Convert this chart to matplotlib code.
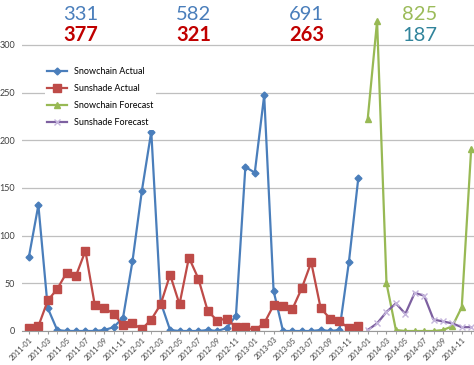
import numpy as np
import pandas as pd
import matplotlib
matplotlib.use('Agg')
import matplotlib.pyplot as plt

plt.rcParams['font.family'] = ['Lato', 'DejaVu Sans']

# monthly categories 2011-01 .. 2014-12
months = [str(p) for p in pd.period_range('2011-01', '2014-12', freq='M')]
tick_labels = months[::2]

nan = np.nan
snow_actual = [78, 132, 24, 1, 0, 0, 0, 0, 1, 4, 14, 73,
               147, 209, 30, 1, 0, 0, 0, 1, 0, 3, 16, 172,
               166, 247, 42, 0, 0, 0, 0, 1, 0, 1, 72, 160] + [nan] * 12
sun_actual = [3, 5, 32, 44, 61, 58, 84, 27, 24, 18, 6, 8,
              2, 12, 28, 59, 28, 77, 55, 21, 11, 13, 4, 4,
              1, 8, 27, 26, 23, 45, 72, 24, 13, 10, 3, 5] + [nan] * 12
snow_forecast = [nan] * 36 + [222, 325, 50, 1, 0, 0, 0, 0, 1, 5, 25, 191]
sun_forecast = [nan] * 36 + [1, 8, 20, 29, 18, 40, 37, 12, 10, 8, 4, 4]

# yearly totals shown above the plot
total_pos = [5.5, 17.5, 29.5, 41.5]
totals_top = ['331', '582', '691', '825']
totals_top_colors = ['#4a7ebb', '#4a7ebb', '#4a7ebb', '#9bbb59']
totals_bottom = ['377', '321', '263', '187']
totals_bottom_colors = ['#c00000', '#c00000', '#c00000', '#31849b']
totals_bottom_weight = ['bold', 'bold', 'bold', 'normal']

x = np.arange(len(months))

fig = plt.figure(figsize=(4.74, 3.65), dpi=100)
ax = fig.add_axes([22 / 474, 34 / 365, 452 / 474, 331 / 365])

ax.plot(x, snow_actual, color='#4a7ebb', lw=1.6, marker='D', ms=3.5,
        label='Snowchain Actual')
ax.plot(x, sun_actual, color='#be4b48', lw=1.6, marker='s', ms=5.5,
        label='Sunshade Actual')
ax.plot(x, snow_forecast, color='#98b954', lw=1.6, marker='^', ms=5,
        label='Snowchain Forecast')
ax.plot(x, sun_forecast, color='#7d60a0', lw=1.6, marker='x', ms=5,
        mec='#c4b5dc', mew=1, label='Sunshade Forecast')

for xp, t, c in zip(total_pos, totals_top, totals_top_colors):
    ax.text(xp, 332, t, color=c, fontsize=14.5, ha='center', va='center')
for xp, t, c, w in zip(total_pos, totals_bottom, totals_bottom_colors, totals_bottom_weight):
    ax.text(xp, 310, t, color=c, fontsize=14.5, ha='center', va='center', fontweight=w)

ax.set_xlim(-0.74, 47.3)
ax.set_ylim(0, 347)
ax.set_yticks([0, 50, 100, 150, 200, 250, 300])
ax.grid(axis='y', color='#bfbfbf', lw=0.9)
ax.set_axisbelow(True)

ax.set_xticks(x[::2])
ax.set_xticklabels(tick_labels, rotation=45, ha='right', rotation_mode='anchor',
                   fontsize=5.4, color='#404040')
ax.set_xticks(x, minor=True)
ax.tick_params(axis='x', which='both', length=2, color='#999999', pad=1.5)
ax.tick_params(axis='y', length=0, labelsize=6.5, labelcolor='#404040', pad=5)

for s in ['top', 'right', 'left']:
    ax.spines[s].set_visible(False)
ax.spines['bottom'].set_color('#999999')

leg = ax.legend(loc='upper left', bbox_to_anchor=(0.04, 0.82), fontsize=6.5,
                frameon=True, framealpha=1, edgecolor='none', handlelength=2.2,
                labelspacing=0.9, borderpad=0.3)

fig.savefig('out.png', dpi=100)
